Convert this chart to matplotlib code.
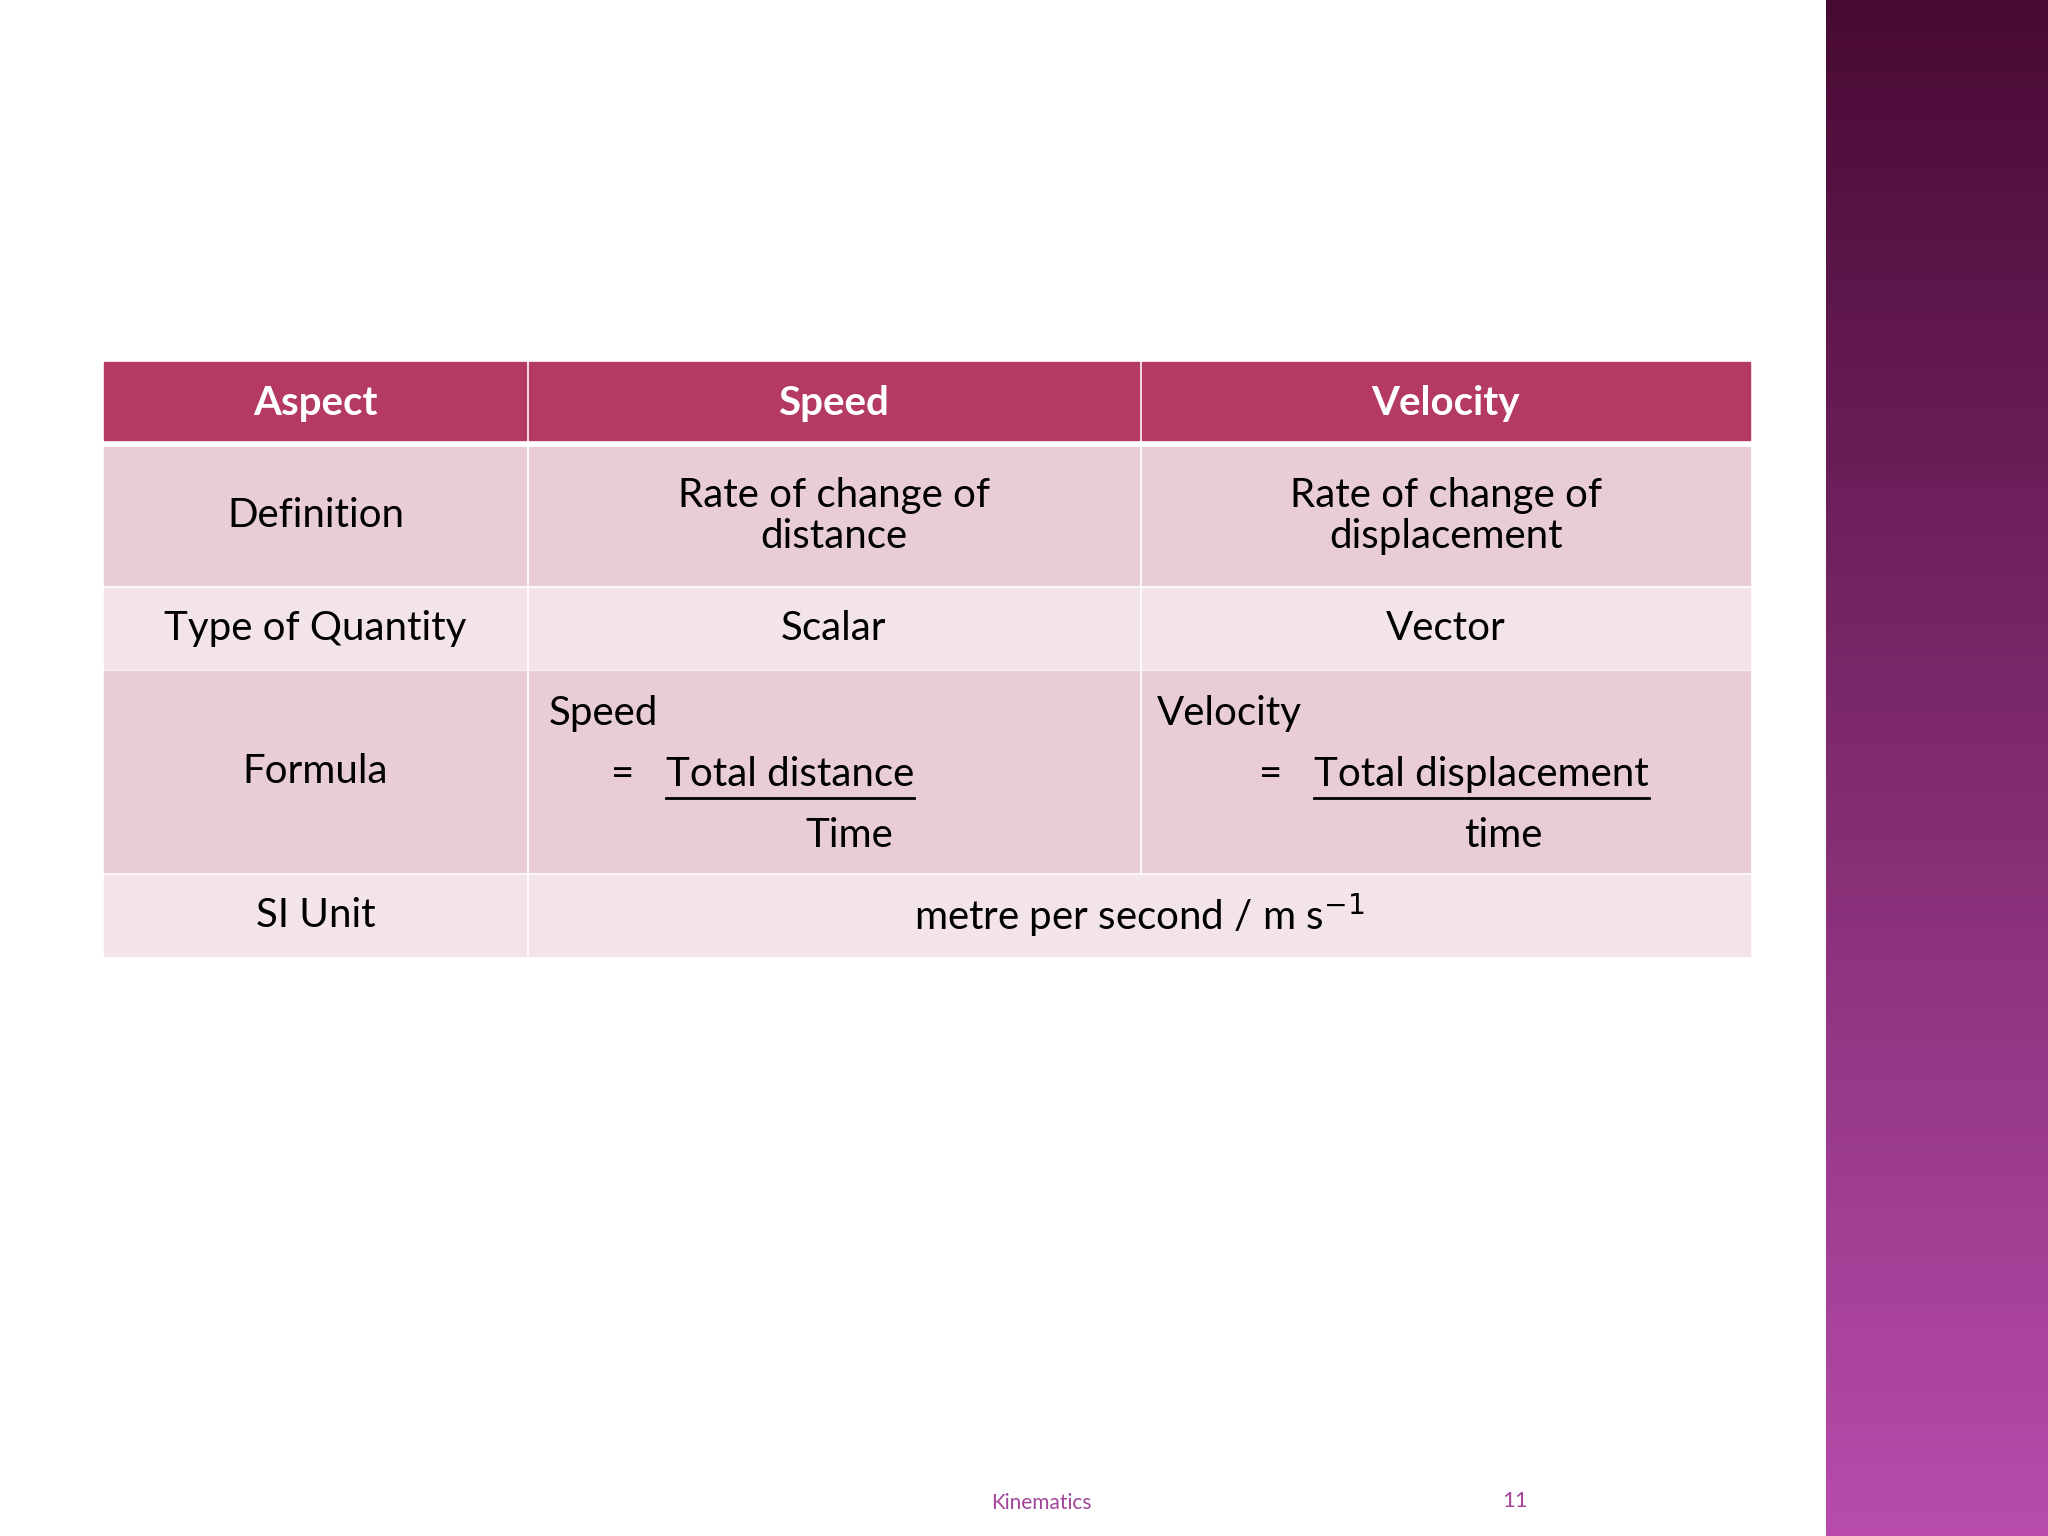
import matplotlib.pyplot as plt
import numpy as np
from matplotlib.patches import Rectangle

plt.rcParams['font.family'] = ['Lato', 'DejaVu Sans']

headers = ["Aspect", "Speed", "Velocity"]
row_labels = ["Definition", "Type of Quantity", "Formula", "SI Unit"]
speed_col = ["Rate of change of\ndistance", "Scalar", None, None]
velocity_col = ["Rate of change of\ndisplacement", "Vector", None, None]
si_unit = "metre per second / m s$^{-1}$"
footer_left = "Kinematics"
footer_right = "11"

W, H = 1568, 1176
fig = plt.figure(figsize=(20.48, 15.36), dpi=100)
ax = fig.add_axes([0, 0, 1, 1])
ax.set_xlim(0, W)
ax.set_ylim(H, 0)
ax.axis("off")

# right gradient band
grad = np.linspace(0, 1, 256).reshape(-1, 1)
top = np.array([0x48, 0x0a, 0x33]) / 255
bot = np.array([0xb8, 0x4c, 0xac]) / 255
img = top + grad[..., None] * (bot - top)
ax.imshow(img, extent=(1398, W, H, 0), aspect="auto", zorder=0)

cols = [79, 404, 873, 1341]
rows = [(277, 337), (342, 448), (450, 512), (514, 668), (670, 732)]
header_c = "#b53a62"
dark_c = "#e8cdd7"
light_c = "#f2e4ea"
fs = 29

def cell(x0, x1, y0, y1, color):
    ax.add_patch(Rectangle((x0 + 1, y0), x1 - x0 - 2, y1 - y0, color=color, zorder=1))

# header
for i, h in enumerate(headers):
    y0, y1 = rows[0]
    cell(cols[i], cols[i + 1], y0, y1, header_c)
    ax.text((cols[i] + cols[i + 1]) / 2, (y0 + y1) / 2 + 2, h, color="white",
            fontsize=fs, fontweight="bold", ha="center", va="center", zorder=2)

for r, lab in enumerate(row_labels):
    y0, y1 = rows[r + 1]
    c = dark_c if r % 2 == 0 else light_c
    ym = (y0 + y1) / 2
    if r == 3:
        cell(cols[0], cols[1], y0, y1, c)
        cell(cols[1], cols[3], y0, y1, c)
        ax.text((cols[1] + cols[3]) / 2, ym, si_unit, fontsize=fs,
                ha="center", va="center", zorder=2)
    else:
        for i in range(3):
            cell(cols[i], cols[i + 1], y0, y1, c)
    ax.text((cols[0] + cols[1]) / 2, ym, lab, fontsize=fs, ha="center", va="center", zorder=2)
    for i, colvals in enumerate([speed_col, velocity_col]):
        if colvals[r] is not None:
            ax.text((cols[i + 1] + cols[i + 2]) / 2, ym, colvals[r], fontsize=fs,
                    ha="center", va="center", linespacing=1.15, zorder=2)

# formula row
formulas = [("Speed", 420, 477, "Total distance", 510, "Time", 650),
            ("Velocity", 886, 973, "Total displacement", 1006, "time", 1151)]
fig.canvas.draw()
rend = fig.canvas.get_renderer()
for name, nx, ex, num, numx, den, denx in formulas:
    ax.text(nx, 546, name, fontsize=fs, ha="left", va="center", zorder=2)
    ax.text(ex, 593, "=", fontsize=fs, ha="center", va="center", zorder=2)
    t = ax.text(numx, 593, num, fontsize=fs, ha="left", va="center", zorder=2)
    ax.text(denx, 640, den, fontsize=fs, ha="center", va="center", zorder=2)
    bb = t.get_window_extent(rend)
    x0, _ = ax.transData.inverted().transform((bb.x0, 0))
    x1, _ = ax.transData.inverted().transform((bb.x1, 0))
    ax.plot([x0, x1], [611, 611], color="black", lw=2, zorder=3)

ax.text(797, 1151, footer_left, color="#a1449a", fontsize=15, ha="center", va="center")
ax.text(1160, 1149, footer_right, color="#a1449a", fontsize=16, ha="center", va="center")

fig.savefig("out.png", dpi=100)
